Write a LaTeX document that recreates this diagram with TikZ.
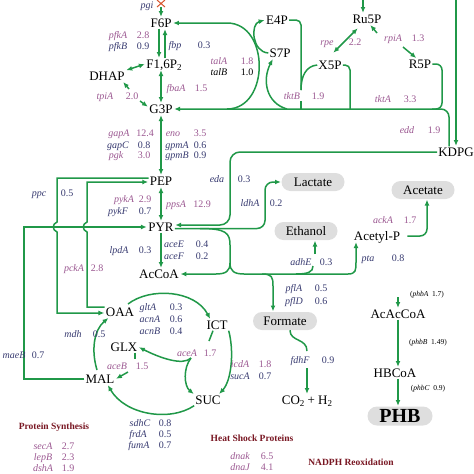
\documentclass[tikz,border=0pt]{standalone}
\usepackage{fontspec}
\setmainfont{Liberation Serif}
\usetikzlibrary{arrows.meta}
\definecolor{gc}{RGB}{32,152,72}
\definecolor{pk}{RGB}{155,88,145}
\definecolor{nv}{RGB}{55,58,112}
\definecolor{hd}{RGB}{120,22,34}
\definecolor{pillc}{RGB}{222,222,222}
\definecolor{orng}{RGB}{215,85,45}
\newcommand\glab[5]{\node[g#1] (g#4) at (#2) {#4}; \node[n#1] (n#4) at (#3) {#5};}
\begin{document}
\begin{tikzpicture}[x=1pt,y=-1pt,
  line/.style={draw=gc, line width=1.5pt},
  arr/.style={line, -{Latex[length=5.8pt,width=5pt]}, shorten >=0.5pt},
  darr/.style={line, {Latex[length=5.8pt,width=5pt]}-{Latex[length=5.8pt,width=5pt]}, shorten >=0.5pt, shorten <=0.5pt},
  met/.style={font=\fontsize{13}{14}\selectfont, inner sep=1pt, text height=9pt, text depth=0pt},
  pill/.style={met, fill=pillc, rounded corners=9pt, minimum width=63pt, minimum height=18pt},
  lab/.style={font=\fontsize{10}{10}\selectfont, inner sep=0pt, text height=6.8pt, text depth=0pt},
  gp/.style={lab, font=\fontsize{10}{10}\selectfont\itshape, text=pk},
  np/.style={lab, text=pk},
  gn/.style={lab, font=\fontsize{10}{10}\selectfont\itshape, text=nv},
  nn/.style={lab, text=nv},
  gk/.style={lab, font=\fontsize{10}{10}\selectfont\itshape, text=black},
  nk/.style={lab, text=black},
  phbl/.style={font=\fontsize{7.5}{8}\selectfont, inner sep=0pt},
  head/.style={font=\fontsize{9.5}{10}\selectfont\bfseries, text=hd, inner sep=0pt}
]
\useasboundingbox (0,0) rectangle (474,474);

% ---- metabolites
\node[met] (F6P) at (161,23) {F6P};
\node[met] (F16P) at (164,64) {F1,6P{\fontsize{9}{9}\selectfont\raisebox{-2pt}{2}}};
\node[met] (DHAP) at (107,76) {DHAP};
\node[met] (G3P) at (161,109) {G3P};
\node[met] (PEP) at (161,181) {PEP};
\node[met] (PYR) at (161,227) {PYR};
\node[met] (AcCoA) at (159,274) {AcCoA};
\node[met] (OAA) at (120,312) {OAA};
\node[met] (ICT) at (217,325) {ICT};
\node[met] (GLX) at (124,347) {GLX};
\node[met] (MAL) at (100,379) {MAL};
\node[met] (SUC) at (208,400) {SUC};
\node[met] (E4P) at (277,20) {E4P};
\node[met] (S7P) at (280,53) {S7P};
\node[met] (Ru5P) at (367,19) {Ru5P};
\node[met] (X5P) at (330,65) {X5P};
\node[met] (R5P) at (420,64) {R5P};
\node[met] (KDPG) at (456,152) {KDPG};
\node[pill] (Lactate) at (313,182) {Lactate};
\node[pill] (Ethanol) at (306,231) {Ethanol};
\node[pill] (Acetate) at (423,190) {Acetate};
\node[met] (AcetylP) at (377,236) {Acetyl-P};
\node[pill, minimum width=64pt] (Formate) at (285,321) {Formate};
\node[met] (CO2) at (307,400) {CO{\fontsize{9}{9}\selectfont\raisebox{-2pt}{2}} + H{\fontsize{9}{9}\selectfont\raisebox{-2pt}{2}}};
\node[met] (AcAcCoA) at (398,314) {AcAcCoA};
\node[met] (HBCoA) at (395,373) {HBCoA};
\node[pill, font=\fontsize{20}{20}\selectfont\bfseries, text height=13pt, minimum width=65pt, minimum height=19pt, rounded corners=9.5pt] (PHB) at (400,416) {PHB};

% ---- free ends
\coordinate (pgitop) at (161,7);
\coordinate (topRu) at (363,0);
\coordinate (top6PG) at (456,0);
\coordinate (phbtop) at (398,297);
\coordinate (cusp) at (191,358);

% ---- pgi mark
\node[gn] (gpgi) at (147,5) {pgi};
\draw[orng, line width=1pt] (157,0) -- (165,7) (165,0) -- (157,7);
\draw[arr] (pgitop) -- (F6P.north);

% ---- upper glycolysis
\draw[arr] ([xshift=-2pt]F6P.south) -- ([xshift=-2pt]F6P.south |- F16P.north);
\draw[arr] ([xshift=4pt]F6P.south |- F16P.north) -- ([xshift=4pt]F6P.south);
\draw[darr] (F16P.west) -- (DHAP.north east);
\draw[arr] (129,89) -- ([xshift=-3pt]DHAP.south east);
\draw[arr] (140,101) -- ([yshift=2pt]G3P.west);
\draw[darr] (G3P.north |- F16P.south) -- (G3P.north);
\draw[darr] (G3P.south) -- (G3P.south |- PEP.north);
\draw[darr] (PEP.south) -- (PEP.south |- PYR.north);
\draw[arr] (PYR.south) -- (PYR.south |- AcCoA.north);

% ---- pentose phosphate / ED
\draw[arr] (top6PG) -- (KDPG.north);
\draw[arr, rounded corners=8pt] ([xshift=-7pt]KDPG.north) |- (G3P.east);
\draw[line, rounded corners=6pt] (R5P.east) -| (442,109) -- (432,109);
\draw[line, rounded corners=5pt] (X5P.east) -| (350,109);
\draw[line, rounded corners=5pt] (E4P.east) -| (301,90);
\draw[line] (301,101) -- (301,109);
\draw[line] (X5P.west) .. controls (306,66) and (301,76) .. (301,90);
\draw[arr] (227,109) .. controls (270,109) and (270,23) .. (227,23) -- (F6P.east);
\draw[arr] (S7P.west) .. controls (252,52) and (250,24) .. (E4P.west);
\draw[arr] (287,109) .. controls (266,103) and (262,80) .. ([xshift=-7pt]S7P.south);
\draw[arr] (topRu) -- ([xshift=-4pt]Ru5P.north);
\coordinate (rpeA) at (358,28);
\coordinate (rpeB) at (333,53);
\draw[darr] (rpeA) -- (rpeB);
\coordinate (rpiA1) at (377,33);
\coordinate (rpiA2) at (403,47);
\draw[arr] (rpiA1) -- ([xshift=3pt]Ru5P.south);
\draw[arr] (rpiA2) -- ([xshift=9pt]R5P.north west);

% ---- ED to PYR, fermentation
\draw[arr, rounded corners=10pt] (KDPG.west) -| (230,225) -- ([yshift=2pt]PYR.east);
\draw[arr, rounded corners=8pt] ([yshift=-1.5pt]PYR.east) -| (265,182) -- (Lactate.west);
\coordinate (jn) at (230,263);
\draw[line] (200,228.5) .. controls (226,228.5) and (230,233) .. (230,245) -- (jn);
\draw[arr] (jn) .. controls (230,271) and (226,274) .. (216,274) -- (AcCoA.east);
\draw[arr] (jn) .. controls (230,271) and (234,274) .. (244,274) -- (348,274) .. controls (356,274) and (356,270) .. (356,262) -- ([xshift=-21pt]AcetylP.south);
\draw[arr] (262,274) .. controls (272,274) and (273,277) .. (273,286) -- ([xshift=-12pt]Formate.north);
\draw[line] (296,274) .. controls (308,274) and (313,272) .. (313,266);
\draw[arr] (315,254) -- ([xshift=9pt]Ethanol.south);
\draw[arr, rounded corners=7pt] ([xshift=6pt]AcetylP.east) -| ([xshift=4pt]Acetate.south);
\draw[line] ([xshift=5pt]Formate.south) .. controls (290,342) and (307,338) .. (307,351);
\draw[arr] (307,368) -- (CO2.north);

% ---- PHB
\draw[arr] (phbtop) -- (AcAcCoA.north);
\draw[arr] (AcAcCoA.south) -- (AcAcCoA.south |- HBCoA.north);
\draw[arr] (AcAcCoA.south |- HBCoA.south) -- (AcAcCoA.south |- PHB.north);

% ---- anaplerotic
\draw[arr] ([yshift=3pt]PEP.west) -- (57,178) -- (57,222) .. controls (52,224) and (52,230) .. (57,232) -- (57,313) -- ([yshift=-1pt]OAA.west);
\draw[arr] ([yshift=5pt]OAA.west) -- (87,307) -- (87,232) .. controls (82,230) and (82,224) .. (87,222) -- (87,182) -- ([yshift=-1pt]PEP.west);
\draw[arr] (MAL.west) -- (24,379) -- (24,227) -- (PYR.west);

% ---- TCA / glyoxylate
\draw[arr] (128,304) .. controls (150,287) and (195,290) .. ([xshift=5pt]ICT.north west);
\draw[arr] (97,370) .. controls (91,350) and (94,330) .. ([xshift=4pt]OAA.south west);
\draw[arr] (ICT.south east) .. controls (234,350) and (232,380) .. ([xshift=-3pt]SUC.north east);
\draw[arr] (SUC.south west) .. controls (170,422) and (125,415) .. ([xshift=-8pt]MAL.south east);
\draw[line] ([xshift=-4pt]ICT.south) -- (209,341);
\draw[arr] (cusp) .. controls (183,366) and (160,358) .. (GLX.east);
\draw[arr] (cusp) .. controls (183,368) and (184,386) .. (SUC.north west);
\draw[line] ([xshift=11pt]GLX.south) -- ++(0,6);
\draw[arr] (128,372) -- (MAL.east);

% ---- gene labels
\glab{p}{118,35}{143,35}{pfkA}{2.8}
\glab{n}{118,46}{143,46}{pfkB}{0.9}
\glab{n}{175,45}{204,45}{fbp}{0.3}
\glab{p}{176,88}{201,88}{fbaA}{1.5}
\glab{p}{105,96}{132,96}{tpiA}{2.0}
\glab{p}{119,133}{145,133}{gapA}{12.4}
\glab{n}{118,145}{144,145}{gapC}{0.8}
\glab{p}{116,155}{144,155}{pgk}{3.0}
\glab{p}{173,133}{200,133}{eno}{3.5}
\glab{n}{177,145}{200,145}{gpmA}{0.6}
\glab{n}{177,155}{200,155}{gpmB}{0.9}
\glab{n}{39,193}{67,193}{ppc}{0.5}
\glab{p}{124,199}{145,199}{pykA}{2.9}
\glab{n}{118,211}{145,211}{pykF}{0.7}
\glab{p}{176,204}{202,204}{ppsA}{12.9}
\glab{n}{119,250}{145,250}{lpdA}{0.3}
\glab{n}{174,244}{202,244}{aceE}{0.4}
\glab{n}{174,256}{202,256}{aceF}{0.2}
\glab{p}{74,268}{97,268}{pckA}{2.8}
\glab{p}{219,61}{247,61}{talA}{1.8}
\glab{k}{219,72}{247,72}{talB}{1.0}
\glab{p}{327,42}{355,42}{rpe}{2.2}
\glab{p}{393,38}{418,38}{rpiA}{1.3}
\glab{p}{292,96}{318,96}{tktB}{1.9}
\glab{p}{383,99}{410,99}{tktA}{3.3}
\glab{p}{407,130}{434,130}{edd}{1.9}
\glab{n}{217,179}{244,179}{eda}{0.3}
\glab{n}{250,203}{276,203}{ldhA}{0.2}
\glab{n}{301,262}{326,262}{adhE}{0.3}
\glab{p}{383,220}{410,220}{ackA}{1.7}
\glab{n}{368,258}{398,258}{pta}{0.8}
\glab{n}{294,288}{321,288}{pflA}{0.5}
\glab{n}{294,301}{321,301}{pflD}{0.6}
\glab{n}{300,360}{328,360}{fdhF}{0.9}
\glab{n}{148,307}{176,307}{gltA}{0.3}
\glab{n}{150,319}{176,319}{acnA}{0.6}
\glab{n}{150,331}{176,331}{acnB}{0.4}
\glab{n}{73,334}{99,334}{mdh}{0.5}
\glab{n}{14,355}{38,355}{maeB}{0.7}
\glab{p}{187,353}{210,353}{aceA}{1.7}
\glab{p}{117,366}{142,366}{aceB}{1.5}
\glab{p}{240,364}{265,364}{icdA}{1.8}
\glab{n}{240,376}{265,376}{sucA}{0.7}
\glab{n}{140,423}{165,423}{sdhC}{0.8}
\glab{n}{138,434}{165,434}{frdA}{0.5}
\glab{n}{139,445}{165,445}{fumA}{0.7}
\glab{p}{43,446}{68,446}{secA}{2.7}
\glab{p}{43,457}{68,457}{lepB}{2.3}
\glab{p}{43,468}{68,468}{dshA}{1.9}
\glab{p}{240,456}{267,456}{dnak}{6.5}
\glab{p}{240,467}{267,467}{dnaJ}{4.1}

\node[phbl] (lphbA) at (427,295) {(\textit{phbA}~~1.7)};
\node[phbl] (lphbB) at (428,343) {(\textit{phbB}~~1.49)};
\node[phbl] (lphbC) at (428,389) {(\textit{phbC}~~0.9)};

\node[head] (hps) at (54,427) {Protein Synthesis};
\node[head] (hhs) at (252,438) {Heat Shock Proteins};
\node[head] (hnr) at (351,462) {NADPH Reoxidation};
\end{tikzpicture}
\end{document}
